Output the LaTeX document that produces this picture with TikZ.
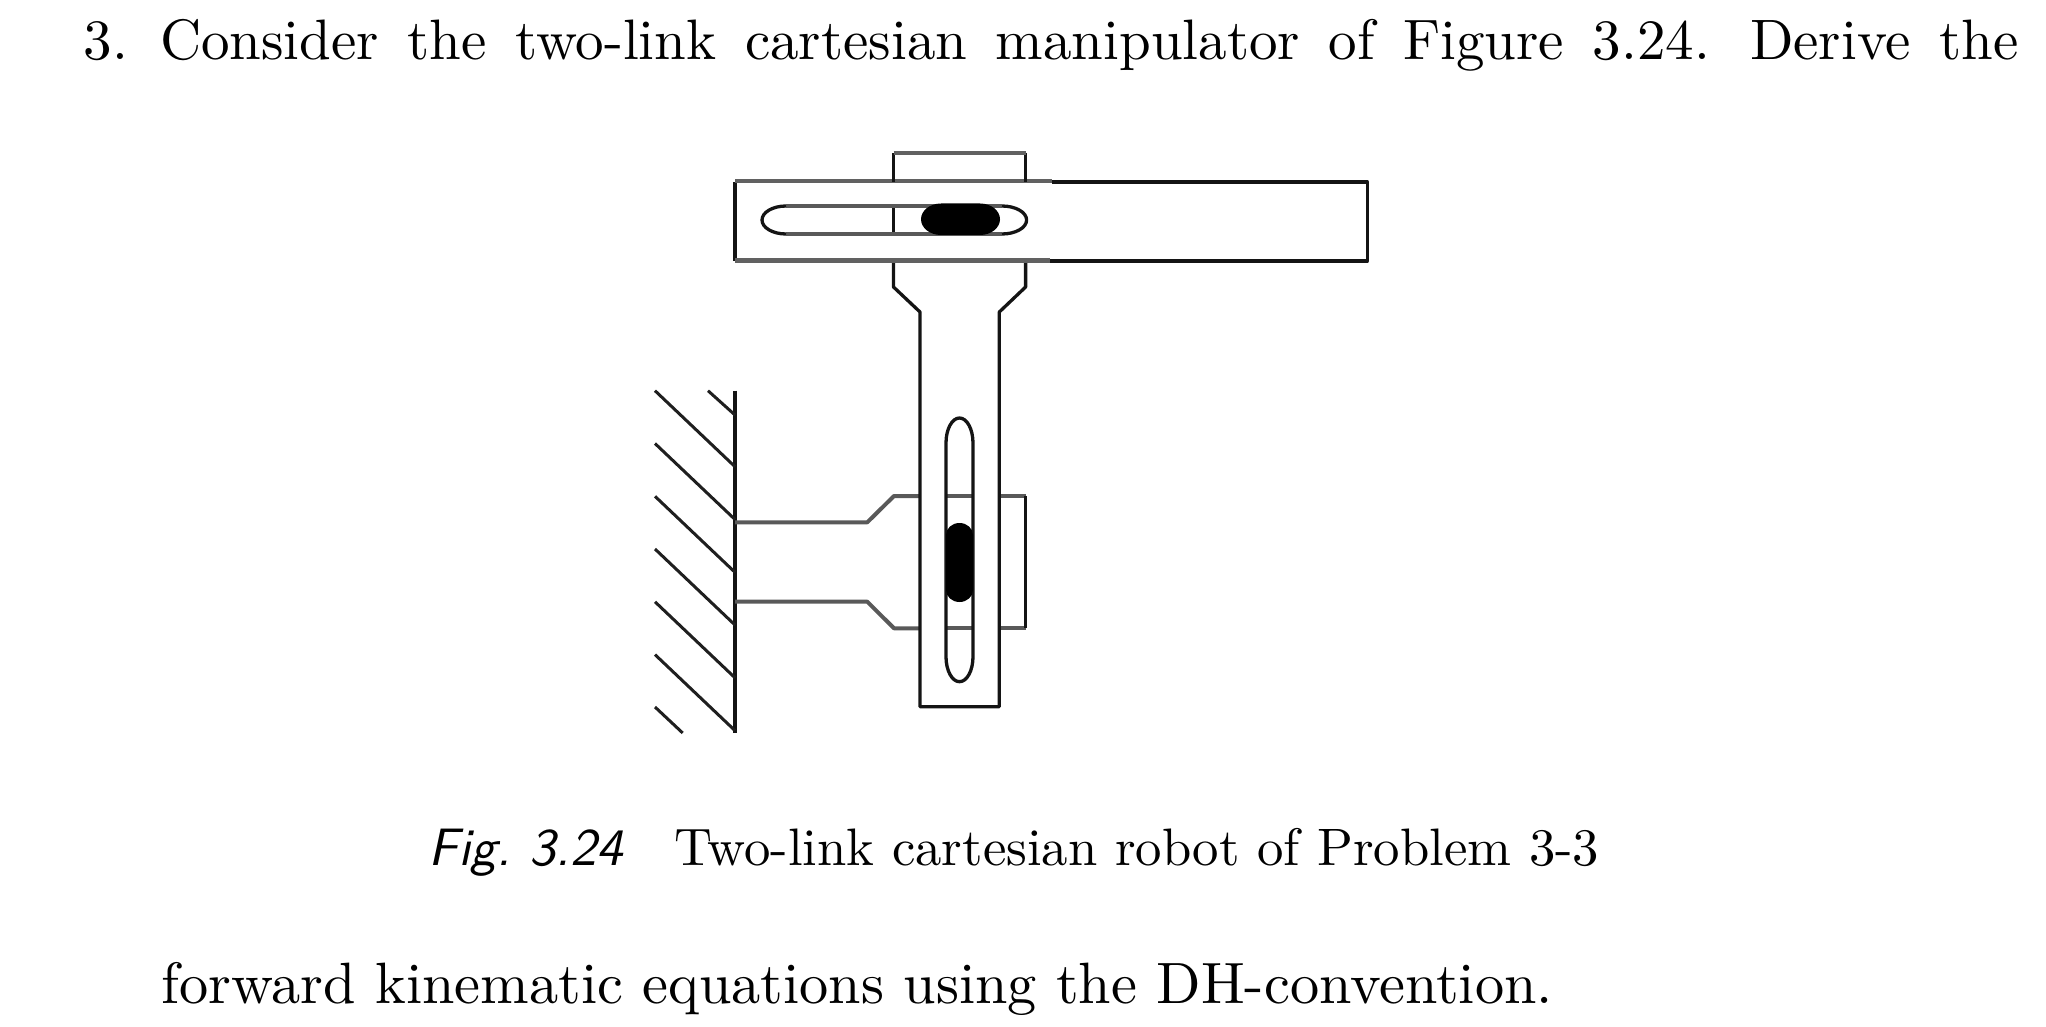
\documentclass[tikz,border=0pt]{standalone}
\begin{document}
\begin{tikzpicture}[
    x=1pt, y=-1pt,
    line join=round,
    bar/.style={line width=3.3pt, black!92},
    soft/.style={line width=4.6pt, black!62},
    softthin/.style={line width=4pt, black!65},
    hatch/.style={line width=3pt, black!88},
    textline/.style={anchor=base west, inner sep=0pt, scale=5.7, font=\fontsize{10}{12}\selectfont},
    captionline/.style={textline, scale=0.9246}
]
\useasboundingbox (0,0) rectangle (2046,1027);
% printed lines
\node[textline] (line1) at (82.5,59.5) {\makebox[339.5pt][s]{3.\hspace{0.6pt}\ Consider the two-link cartesian manipulator of Figure 3.24.\hspace{2pt}\ Derive the}};
\node[captionline] (figno) at (427,865) {\sffamily\itshape Fig.\ 3.24};
\node[captionline] (caption) at (673,865) {Two-link cartesian robot of Problem 3-3};
\node[textline, scale=1.023] (line2) at (160,1003) {forward kinematic equations using the DH-convention.};
% wall
\draw[bar] (735,390.7) -- (735,733);
\draw[hatch] (708,390.7) -- (735,415);
\foreach \hy in {390.7,443.5,496.3,549,601.8,654.6}
    \draw[hatch] (655,\hy) -- (735,\hy+76);
\draw[hatch] (655,707) -- (682.7,733);
% fixed link
\draw[softthin] (735,522.3) -- (867.3,522.3) -- (894,496) -- (920,496);
\draw[softthin] (735,601.7) -- (867.3,601.7) -- (894,628.3) -- (920,628.3);
\draw[softthin] (946,496) -- (973,496);
\draw[softthin] (946,628.3) -- (973,628.3);
\draw[softthin] (999.3,496) -- (1025.7,496);
\draw[softthin] (999.3,628.3) -- (1025.7,628.3);
\draw[bar] (1025.7,496) -- (1025.7,628.3);
% vertical link
\draw[bar] (893.5,261) -- (893.5,287) -- (920,312) -- (920,706.7) -- (999.3,706.7) -- (999.3,312) -- (1025.6,287) -- (1025.6,261);
\draw[bar] (946,443) arc[start angle=180, end angle=360, x radius=13.5, y radius=25] -- (973,656.7) arc[start angle=0, end angle=180, x radius=13.5, y radius=25] -- cycle;
\fill[black] (946,535) arc[start angle=180, end angle=360, x radius=13.5, y radius=12] -- (973,590) arc[start angle=0, end angle=180, x radius=13.5, y radius=12] -- cycle;
% horizontal link
\draw[bar] (1052,182) -- (1367.4,182) -- (1367.4,261) -- (1025.6,261);
\draw[bar] (735,182) -- (735,261);
\draw[soft] (735,181) -- (1052,181);
\draw[soft] (735,260.5) -- (1050,260.5);
\draw[bar] (893.5,153) -- (893.5,182);
\draw[bar] (1025.6,153) -- (1025.6,182);
\draw[soft] (893.5,153) -- (1025.6,153);
\draw[bar] (893.5,206) -- (893.5,234);
\draw[softthin] (786,206) -- (1002,206);
\draw[softthin] (786,234) -- (1002,234);
\draw[bar] (1002,206) arc[start angle=-90, end angle=90, x radius=24.6, y radius=14];
\draw[bar] (786,234) arc[start angle=90, end angle=270, x radius=24, y radius=14];
\fill[black] (941,203.5) -- (980,203.5) arc[start angle=-90, end angle=90, x radius=20, y radius=15.75] -- (941,235) arc[start angle=90, end angle=270, x radius=20, y radius=15.75] -- cycle;
\end{tikzpicture}
\end{document}
